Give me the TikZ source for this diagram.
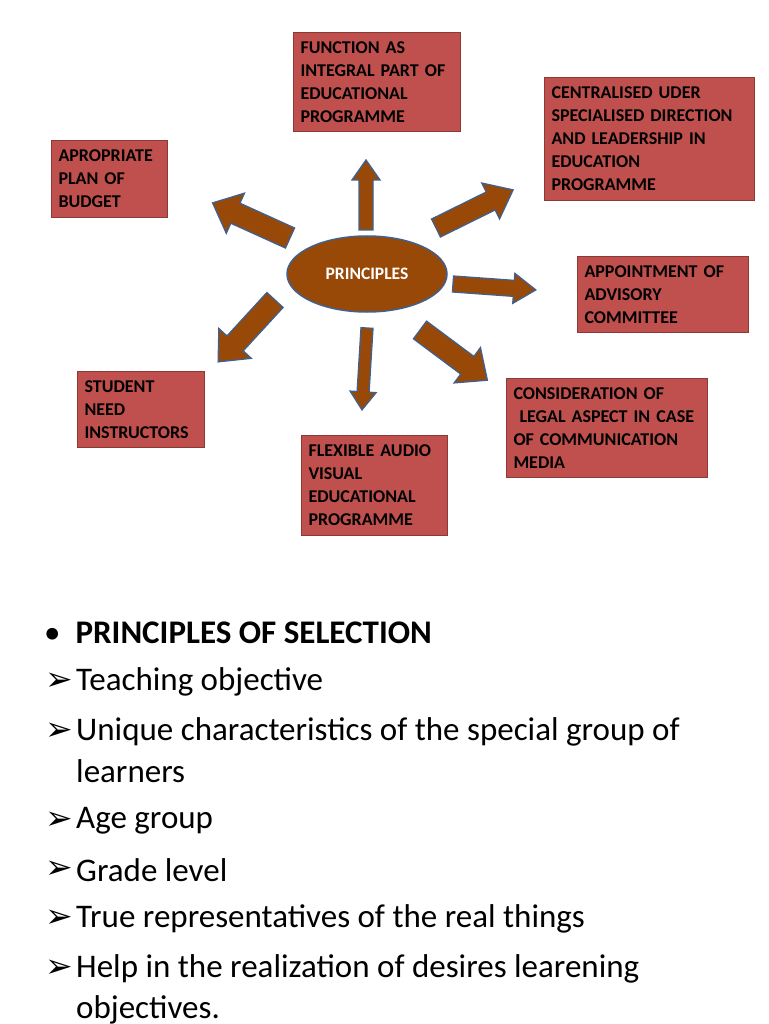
\documentclass[tikz,border=0pt]{standalone}
\usepackage{fontspec}
\usetikzlibrary{shapes.geometric}
\setmainfont{Carlito}
\newfontfamily\symfont{DejaVu Sans}
\definecolor{boxred}{HTML}{C0504D}
\definecolor{boxedge}{HTML}{8C3A38}
\definecolor{brown}{HTML}{984807}
\definecolor{blueedge}{HTML}{41618C}
\newcommand\Pt[2]{({\tx+(#1)*\cc-(#2)*\ss},{\ty+(#1)*\ss+(#2)*\cc})}
\begin{document}
\begin{tikzpicture}[x=1pt,y=-1pt,
  redbox/.style={draw=boxedge,line width=1pt,fill=boxred,anchor=north west,align=left,
    font=\fontsize{18}{23}\selectfont\bfseries,inner xsep=7pt,inner ysep=4pt},
  barrow/.style={fill=brown,draw=blueedge,line width=1.3pt,line join=miter},
  itemtext/.style={anchor=west,font=\fontsize{33}{38}\selectfont,inner sep=0pt,align=left}]
\useasboundingbox (0,0) rectangle (768,1024);
\fill[white] (0,0) rectangle (768,1024);
% boxes
\node[redbox,minimum width=167pt,minimum height=99pt,text width=153pt] (func) at (293,32) {FUNCTION AS\\INTEGRAL PART OF\\EDUCATIONAL\\PROGRAMME};
\node[redbox,minimum width=210pt,minimum height=123pt,text width=196pt] (cent) at (544,77) {CENTRALISED UDER\\SPECIALISED DIRECTION\\AND LEADERSHIP IN\\EDUCATION\\PROGRAMME};
\node[redbox,minimum width=116pt,minimum height=77pt,text width=102pt] (budg) at (51,140) {APROPRIATE\\PLAN OF\\BUDGET};
\node[redbox,minimum width=171pt,minimum height=76pt,text width=157pt] (appt) at (577,256) {APPOINTMENT OF\\ADVISORY\\COMMITTEE};
\node[redbox,minimum width=127pt,minimum height=76pt,text width=113pt] (stud) at (77,371) {STUDENT\\NEED\\INSTRUCTORS};
\node[redbox,minimum width=201pt,minimum height=99pt,text width=187pt] (cons) at (506,378) {CONSIDERATION OF\\\ LEGAL ASPECT IN CASE\\OF COMMUNICATION\\MEDIA};
\node[redbox,minimum width=146pt,minimum height=100pt,text width=132pt] (flex) at (301,435) {FLEXIBLE AUDIO\\VISUAL\\EDUCATIONAL\\PROGRAMME};
% centre
\node[ellipse,draw=blueedge,line width=1.5pt,fill=brown,minimum width=160pt,minimum height=76pt,
  text=white,font=\fontsize{17.5}{18}\selectfont\bfseries] (prin) at (367,274) {PRINCIPLES};
% block arrows: tail, angle (pixel frame, y down), length, half shaft, half head, head length
\foreach \tx/\ty/\ang/\L/\w/\h/\hl in {
  366/230/-90/70/7/14/20,
  290/238/-155.6/85/11/22/25,
  436/228/-26.3/86/10/20/25,
  453/284/4.1/83/8/15/22,
  420/330/36.7/84/11/22/25,
  367/328/93.5/82/6/13/18,
  275/300/132.6/84/11/22/25}{
  \pgfmathsetmacro\cc{cos(\ang)}
  \pgfmathsetmacro\ss{sin(\ang)}
  \pgfmathsetmacro\bb{\L-\hl}
  \draw[barrow] \Pt{0}{-\w} -- \Pt{\bb}{-\w} -- \Pt{\bb}{-\h} -- \Pt{\L}{0}
    -- \Pt{\bb}{\h} -- \Pt{\bb}{\w} -- \Pt{0}{\w} -- cycle;
}
% bottom text
\node[itemtext,font=\fontsize{33}{38}\selectfont\bfseries] (h) at (44,633) {\mdseries•\ \ \bfseries PRINCIPLES OF SELECTION};
\foreach \y/\t [count=\i] in {682/Teaching objective,
  732/Unique characteristics of the special group of,
  821/Age group, 870/Grade level,
  919/True representatives of the real things,
  969/Help in the realization of desires learening}{
  \node[itemtext,font=\fontsize{33}{36}\selectfont\symfont] (m\i) at (45,\y) {➢};
  \node[itemtext] (t\i) at (76,\y) {\t};
}
\node[itemtext] (t2b) at (76,771) {learners};
\node[itemtext] (t6b) at (76,1010) {objectives.};
\end{tikzpicture}
\end{document}
